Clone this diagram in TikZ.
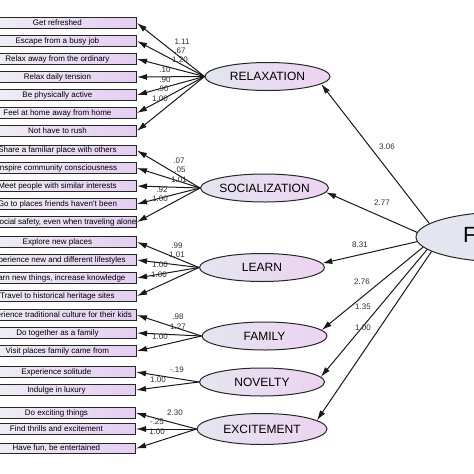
\documentclass[tikz,border=0pt]{standalone}
\usepackage{fontspec}
\setmainfont{Liberation Sans}
\usepackage{xcolor}
\usetikzlibrary{arrows.meta,shapes.geometric}
\definecolor{itemleft}{HTML}{F1F1F5}
\definecolor{itemright}{HTML}{E4CDF2}
\definecolor{latleft}{HTML}{E3E5EF}
\definecolor{latright}{HTML}{EDD3F1}
\definecolor{coefgray}{HTML}{2E2E2E}

\begin{document}
\begin{tikzpicture}[x=1pt,y=-1pt,
  item/.style={draw=black!85,line width=1.2pt,left color=itemleft,right color=itemright,
    minimum width=158pt,minimum height=10.5pt,inner sep=0pt,anchor=east,
    font=\fontsize{8}{9}\selectfont},
  factor/.style={ellipse,draw=black!85,line width=1pt,left color=latleft,right color=latright,
    minimum width=125pt,minimum height=28pt,inner sep=0pt,font=\fontsize{12}{14}\selectfont},
  coef/.style={font=\fontsize{8}{9}\selectfont,text=coefgray,inner sep=0pt},
  load/.style={-{Latex[length=10pt,width=6pt]},line width=1pt,draw=black!90}
]
\useasboundingbox (0,0) rectangle (474,474);
\clip (0,0) rectangle (474,474);

% observed items
\node[item] (r1) at (137,23) {Get refreshed};
\node[item] (r2) at (137,41) {Escape from a busy job};
\node[item] (r3) at (137,59) {Relax away from the ordinary};
\node[item] (r4) at (137,77) {Relax daily tension};
\node[item] (r5) at (137,95) {Be physically active};
\node[item] (r6) at (137,113) {Feel at home away from home};
\node[item] (r7) at (137,131) {Not have to rush};

\node[item] (s1) at (137,150.5) {Share a familiar place with others};
\node[item] (s2) at (137,168) {Inspire community consciousness};
\node[item] (s3) at (137,186) {Meet people with similar interests};
\node[item] (s4) at (137,204) {Go to places friends haven't been};
\node[item] (s5) at (137,222) {Feel social safety, even when traveling alone};

\node[item] (l1) at (137,242) {Explore new places};
\node[item] (l2) at (137,260) {Experience new and different lifestyles};
\node[item] (l3) at (137,278) {Learn new things, increase knowledge};
\node[item] (l4) at (137,296) {Travel to historical heritage sites};

\node[item] (f1) at (137,315) {Experience traditional culture for their kids};
\node[item] (f2) at (137,333) {Do together as a family};
\node[item] (f3) at (137,351) {Visit places family came from};

\node[item] (n1) at (136,372) {Experience solitude};
\node[item] (n2) at (136,390) {Indulge in luxury};

\node[item] (e1) at (136,413) {Do exciting things};
\node[item] (e2) at (136,429) {Find thrills and excitement};
\node[item] (e3) at (136,448.5) {Have fun, be entertained};

% first-order factors
\node[factor] (relax) at (267.5,76.5) {RELAXATION};
\node[factor] (social) at (264.5,188) {SOCIALIZATION};
\node[factor] (learn) at (262,267.5) {LEARN};
\node[factor] (family) at (264.5,336) {FAMILY};
\node[factor] (novelty) at (262,382) {NOVELTY};
\node[factor,minimum width=130pt,minimum height=31pt] (excite) at (262,429) {EXCITEMENT};

% second-order factor
\node[ellipse,draw=black!85,line width=1pt,fill=latleft,minimum width=180pt,
  minimum height=50pt] (overall) at (506,237) {};
\node[anchor=west,inner sep=0pt,font=\fontsize{22}{24}\selectfont] (overlbl) at (463,235) {F};

% loadings
\draw[load] (relax.west) -- (r1.east);
\draw[load] (relax.west) -- (r2.east);
\draw[load] (relax.west) -- (r3.east);
\draw[load] (relax.west) -- (r4.east);
\draw[load] (relax.west) -- (r5.east);
\draw[load] (relax.west) -- (r6.east);
\draw[load] (relax.west) -- (r7.east);

\draw[load] (social.west) -- (s1.east);
\draw[load] (social.west) -- (s2.east);
\draw[load] (social.west) -- (s3.east);
\draw[load] (social.west) -- (s4.east);
\draw[load] (social.west) -- (s5.east);

\draw[load] (learn.west) -- (l1.east);
\draw[load] (learn.west) -- (l2.east);
\draw[load] (learn.west) -- (l3.east);
\draw[load] (learn.west) -- (l4.east);

\draw[load] (family.west) -- (f1.east);
\draw[load] (family.west) -- (f2.east);
\draw[load] (family.west) -- (f3.east);

\draw[load] (novelty.west) -- (n1.east);
\draw[load] (novelty.west) -- (n2.east);

\draw[load] (excite.west) -- (e1.east);
\draw[load] (excite.west) -- (e2.east);
\draw[load] (excite.west) -- (e3.east);

\draw[load] (overall.170) -- (relax.-8);
\draw[load] (overall.177) -- (social.-4);
\draw[load] (overall.183) -- (learn.4);
\draw[load] (overall.187) -- (family.6);
\draw[load] (overall.189) -- (novelty.5);
\draw[load] (overall.191) -- (excite.9);

% estimates
\node[coef] (cr1) at (182,42) {1.11};
\node[coef] (cr2) at (180,51) {.67};
\node[coef] (cr3) at (180,60) {1.20};
\node[coef] (cr4) at (165,70) {.10};
\node[coef] (cr5) at (165,80) {.90};
\node[coef] (cr6) at (163,89) {.90};
\node[coef] (cr7) at (160,99) {1.00};

\node[coef] (cs1) at (179,161) {.07};
\node[coef] (cs2) at (180,170) {.05};
\node[coef] (cs3) at (179,180) {1.01};
\node[coef] (cs4) at (162,190) {.92};
\node[coef] (cs5) at (160,199) {1.00};

\node[coef] (cl1) at (177,246) {.99};
\node[coef] (cl2) at (177,255) {1.01};
\node[coef] (cl3) at (160,265) {1.00};
\node[coef] (cl4) at (159,275) {1.00};

\node[coef] (cf1) at (178,317) {.98};
\node[coef] (cf2) at (178,327) {1.27};
\node[coef] (cf3) at (160,337) {1.00};

\node[coef] (cn1) at (177,370) {-.19};
\node[coef] (cn2) at (158,380) {1.00};

\node[coef] (ce1) at (175,413) {2.30};
\node[coef] (ce2) at (157,422) {-.25};
\node[coef] (ce3) at (157,432) {1.00};

\node[coef] (gr) at (387,147) {3.06};
\node[coef] (gs) at (382,203) {2.77};
\node[coef] (gl) at (360,245) {8.31};
\node[coef] (gf) at (362,282) {2.76};
\node[coef] (gn) at (363,307) {1.35};
\node[coef] (ge) at (363,328) {1.00};
\end{tikzpicture}
\end{document}
